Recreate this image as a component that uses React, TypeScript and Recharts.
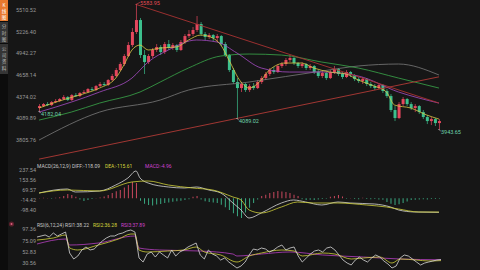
import { ComposedChart, Bar, Line, XAxis, YAxis, ReferenceLine, ReferenceDot, Cell } from "recharts";

const UP = "#e5475d";
const DOWN = "#3cbf8d";
const TICK = { fill: "#9a9a9a", fontSize: 5.5, fontFamily: "Roboto" };

// [open, high, low, close]
const candles: [number, number, number, number][] = [
  [4225, 4277, 4182.04, 4251], [4251, 4290, 4238, 4277], [4277, 4303, 4251, 4264], [4264, 4317, 4251, 4303],
  [4303, 4343, 4290, 4317], [4317, 4356, 4303, 4343], [4343, 4395, 4330, 4369], [4369, 4382, 4317, 4330],
  [4330, 4408, 4317, 4395], [4395, 4422, 4369, 4382], [4382, 4435, 4369, 4422], [4422, 4461, 4408, 4435],
  [4435, 4487, 4422, 4474], [4474, 4500, 4448, 4461], [4461, 4527, 4448, 4513], [4513, 4566, 4500, 4540],
  [4540, 4566, 4513, 4527], [4527, 4605, 4513, 4592], [4592, 4671, 4579, 4645], [4645, 4750, 4631, 4723],
  [4723, 4828, 4710, 4802], [4802, 4933, 4776, 4907], [4907, 5091, 4894, 5051], [5051, 5274, 5025, 5222],
  [5222, 5583.95, 5196, 5379], [5379, 5406, 4881, 4920], [4920, 4986, 4671, 4828], [4828, 4933, 4802, 4907],
  [4907, 5012, 4881, 4986], [4986, 5064, 4959, 5025], [5025, 5051, 4920, 4959], [4959, 5091, 4933, 5064],
  [5064, 5117, 4986, 5012], [5012, 5078, 4986, 5051], [5051, 5064, 4959, 4986], [4986, 5117, 4973, 5091],
  [5091, 5196, 5064, 5169], [5169, 5248, 5143, 5196], [5196, 5287, 5169, 5248], [5248, 5432, 5222, 5327],
  [5327, 5353, 5169, 5196], [5196, 5222, 5117, 5156], [5156, 5209, 5130, 5182], [5182, 5196, 5104, 5143],
  [5143, 5196, 5091, 5169], [5169, 5182, 5038, 5064], [5064, 5091, 4894, 4920], [4920, 4933, 4697, 4723],
  [4723, 4750, 4540, 4566], [4566, 4618, 4089.02, 4487], [4487, 4566, 4435, 4540], [4540, 4553, 4435, 4461],
  [4461, 4540, 4435, 4513], [4513, 4553, 4461, 4487], [4487, 4592, 4474, 4566], [4566, 4645, 4540, 4618],
  [4618, 4697, 4592, 4671], [4671, 4750, 4645, 4723], [4723, 4763, 4671, 4697], [4697, 4802, 4684, 4776],
  [4776, 4828, 4750, 4802], [4802, 4881, 4776, 4855], [4855, 4920, 4828, 4881], [4881, 4894, 4789, 4815],
  [4815, 4828, 4750, 4776], [4776, 4828, 4750, 4802], [4802, 4815, 4723, 4750], [4750, 4802, 4723, 4776],
  [4776, 4789, 4671, 4697], [4697, 4723, 4618, 4645], [4645, 4710, 4618, 4684], [4684, 4697, 4592, 4618],
  [4618, 4723, 4605, 4697], [4697, 4776, 4671, 4736], [4736, 4750, 4645, 4671], [4671, 4697, 4605, 4632],
  [4632, 4723, 4618, 4697], [4697, 4710, 4632, 4658], [4658, 4671, 4579, 4605], [4605, 4632, 4553, 4579],
  [4579, 4632, 4540, 4605], [4605, 4618, 4513, 4540], [4540, 4566, 4487, 4513], [4513, 4540, 4461, 4487],
  [4487, 4553, 4474, 4527], [4527, 4540, 4422, 4448], [4448, 4474, 4356, 4382], [4382, 4408, 4172, 4199],
  [4199, 4251, 4054, 4094], [4094, 4303, 4080, 4277], [4277, 4369, 4251, 4343], [4343, 4356, 4251, 4277],
  [4277, 4303, 4199, 4225], [4225, 4277, 4172, 4251], [4251, 4264, 4146, 4172], [4172, 4199, 4080, 4107],
  [4107, 4133, 4015, 4054], [4054, 4107, 4002, 4080], [4080, 4094, 3989, 4028], [4028, 4080, 3943.65, 4054],
];

// moving averages: [candle index, value]
const maYellow: [number, number][] = [
  [0, 4225], [5, 4317], [10, 4395], [15, 4487], [19, 4618], [21, 4789], [23, 4986], [25, 5051], [27, 4986],
  [30, 5012], [34, 5025], [37, 5117], [40, 5182], [43, 5143], [45, 5051], [47, 4855], [50, 4566], [52, 4487],
  [55, 4592], [57, 4723], [61, 4815], [65, 4815], [68, 4750], [72, 4697], [76, 4671], [79, 4592], [83, 4513],
  [86, 4435], [88, 4264], [92, 4225], [96, 4133], [99, 4080],
];
const maPurple: [number, number][] = [
  [0, 4172], [8, 4303], [15, 4435], [23, 4618], [27, 4828], [32, 4986], [39, 5117], [44, 5091], [49, 4946],
  [55, 4750], [62, 4697], [70, 4697], [79, 4645], [89, 4435], [99, 4290],
];
const maGreen: [number, number][] = [
  [0, 4067], [8, 4172], [15, 4290], [25, 4435], [30, 4566], [37, 4750], [45, 4907], [52, 4933], [60, 4920],
  [70, 4828], [79, 4750], [89, 4618], [99, 4487],
];
const maGray: [number, number][] = [
  [0, 3805], [15, 4172], [30, 4330], [37, 4461], [52, 4566], [70, 4710], [79, 4776], [89, 4802], [99, 4658],
];

const diffPts: [number, number][] = [
  [0, 44.4], [7, 78], [9, 52.8], [15, 61.2], [19, 111.6], [22, 170.4], [24, 229.1], [25, 170.4], [27, 128.4],
  [32, 94.8], [36, 86.4], [39, 94.8], [42, 69.6], [45, 44.4], [48, -39.6], [50, -98.4], [52, -165.6],
  [55, -123.6], [60, -39.6], [63, -14.4], [66, -31.2], [70, -56.4], [74, -31.2], [77, -39.6], [83, -48],
  [87, -73.2], [89, -98.4], [93, -115.2], [99, -118.09],
];
const deaPts: [number, number][] = [
  [0, 44.4], [7, 69.6], [15, 61.2], [23, 136.8], [27, 145.2], [32, 111.6], [38, 86.4], [43, 69.6], [48, 10.8],
  [50, -14.4], [52, -98.4], [55, -123.6], [60, -73.2], [64, -31.2], [68, -39.6], [74, -39.6], [81, -56.4],
  [86, -73.2], [89, -90], [94, -115.2], [99, -115.61],
];
const macdHist = [
  3, 5, 2, -3, 4, 8, 20, 35, 28, 12, -10, -22, -15, -5, 3, 6, 15, 27, 44, 60,
  70, 90, 111, 137, 128, -20, -45, -56, -60, -52, -48, -40, -35, -30, -25, -20, -15, -8, 12, 20,
  -10, -25, -31, -35, -40, -55, -75, -98, -125, -150, -165, -120, -80, -40, -10, 19, 30, 44, 53, 61,
  58, 53, 44, 30, 19, -8, -14, -12, -14, -10, -6, -4, 12, 19, 27, 15, -4, 3, -6, -8,
  4, -5, -8, -6, -10, -12, -31, -45, -56, -50, -40, -28, -15, -12, -10, -8, -10, -6, -5, -4.96,
];

const rsi1 = [
  82.6, 84.6, 86.6, 82.6, 90.5, 84.6, 88.5, 92.4, 51.2, 39.4, 45.3, 57.1, 63.0, 57.1, 59.0, 66.9, 74.8, 80.7, 84.6, 84.6,
  88.5, 90.5, 94.4, 96.4, 92.4, 41.4, 33.5, 49.2, 53.2, 43.3, 53.2, 47.3, 41.4, 57.1, 45.3, 53.2, 57.1, 63.0, 66.9, 70.8,
  47.3, 39.4, 57.1, 49.2, 45.3, 37.4, 41.4, 33.5, 27.6, 21.7, 25.6, 33.5, 47.3, 59.0, 57.1, 61.0, 59.0, 53.2, 57.1, 63.0,
  66.9, 57.1, 61.0, 63.0, 45.3, 33.5, 41.4, 49.2, 55.1, 57.1, 53.2, 61.0, 63.0, 57.1, 47.3, 37.4, 31.5, 27.6, 37.4, 43.3,
  37.4, 33.5, 41.4, 47.3, 43.3, 35.5, 29.6, 21.7, 25.6, 41.4, 47.3, 45.3, 39.4, 33.5, 27.6, 31.5, 33.5, 35.5, 37.4, 38.22,
];
const rsi2Pts: [number, number][] = [
  [0, 76.7], [4, 80.7], [7, 86.6], [8, 61], [10, 57.1], [15, 66.9], [20, 78.7], [23, 88.5], [24, 88.5], [25, 57.1],
  [27, 53.2], [32, 55.1], [36, 57.1], [39, 63], [41, 53.2], [45, 47.3], [49, 33.5], [52, 45.3], [55, 51.2],
  [60, 57.1], [63, 55.1], [65, 45.3], [70, 51.2], [73, 49.2], [77, 39.4], [80, 41.4], [84, 43.3], [87, 31.5],
  [89, 39.4], [93, 37.4], [96, 35.5], [99, 36.28],
];
const rsi3Pts: [number, number][] = [
  [0, 68.9], [7, 78.7], [8, 66.9], [15, 70.8], [24, 84.6], [25, 61], [30, 57.1], [40, 55.1], [48, 49.2],
  [49, 45.3], [55, 49.2], [62, 53.2], [70, 47.3], [80, 43.3], [89, 39.4], [99, 37.89],
];

const priceTicks = [3805.76, 4089.89, 4374.02, 4658.14, 4942.27, 5226.4, 5510.52];
const macdTicks = [-98.4, -14.42, 69.57, 153.56, 237.54];
const rsiTicks = [30.56, 52.83, 75.09, 97.36];

const pick = (pts: [number, number][], i: number) => {
  const f = pts.find((p) => p[0] === i);
  return f ? f[1] : null;
};

const rows = candles.map(([o, h, l, c], i) => ({
  i,
  o, h, l, c,
  range: [l, h],
  ma1: pick(maYellow, i),
  ma2: pick(maPurple, i),
  ma3: pick(maGreen, i),
  ma4: pick(maGray, i),
  diff: pick(diffPts, i),
  dea: pick(deaPts, i),
  macd: macdHist[i],
  rsi1: rsi1[i],
  rsi2: pick(rsi2Pts, i),
  rsi3: pick(rsi3Pts, i),
}));

const Candle = (props: any) => {
  const { x, y, width, height, payload } = props;
  const { o, h, l, c } = payload;
  const top = Math.min(y, y + height);
  const span = Math.abs(height);
  const k = h === l ? 0 : span / (h - l);
  const bodyTop = top + (h - Math.max(o, c)) * k;
  const bodyH = Math.max(0.8, Math.abs(o - c) * k);
  const cx = x + width / 2;
  const col = c >= o ? UP : DOWN;
  return (
    <g>
      <line x1={cx} x2={cx} y1={top} y2={top + span} stroke={col} strokeWidth={0.7} />
      <rect x={x} y={bodyTop} width={width} height={bodyH} fill={col} />
    </g>
  );
};

const lowLabel = (text: string) => (p: any) => {
  const cx = p.viewBox.x + p.viewBox.width / 2;
  const cy = p.viewBox.y + p.viewBox.height / 2;
  return (
    <g>
      <line x1={cx} y1={cy} x2={cx + 2} y2={cy + 2} stroke="#d0d0d0" strokeWidth={0.6} />
      <text x={cx + 2} y={cy + 5} fill="#6fd3ad" fontSize={5.5} fontFamily="Roboto">{text}</text>
    </g>
  );
};

const highLabel = (text: string) => (p: any) => {
  const cx = p.viewBox.x + p.viewBox.width / 2;
  const cy = p.viewBox.y + p.viewBox.height / 2;
  return (
    <g>
      <line x1={cx} y1={cy} x2={cx + 4} y2={cy - 2} stroke="#e04a55" strokeWidth={0.6} />
      <text x={cx + 4} y={cy + 0.5} fill="#e04a55" fontSize={5.5} fontFamily="Roboto">{text}</text>
    </g>
  );
};

const axes = (domain: [number, number], ticks: number[]) => [
  <XAxis key="x" dataKey="i" hide />,
  <YAxis key="l" yAxisId="l" orientation="left" width={37} domain={domain} ticks={ticks} interval={0}
    axisLine={false} tickLine={false} tickSize={0} tickMargin={1} tick={TICK} tickFormatter={(v) => v.toFixed(2)} />,
  <YAxis key="r" yAxisId="r" orientation="right" width={39} domain={domain} ticks={ticks} interval={0}
    axisLine={false} tickLine={false} tickSize={0} tickMargin={11} tick={TICK} tickFormatter={(v) => v.toFixed(2)} />,
];

const M = { top: 0, right: 0, bottom: 0, left: 0 };
const ma = (key: string, color: string) => (
  <Line yAxisId="l" dataKey={key} stroke={color} strokeWidth={0.8} dot={false} connectNulls type="monotone" isAnimationActive={false} />
);

export default function App() {
  return (
    <div style={{ position: "absolute", left: 0, top: 0, width: 480, height: 270, background: "#161616", overflow: "hidden" }}>
      <div style={{ position: "absolute", left: 0, top: 0 }}>
        <ComposedChart width={480} height={163} data={rows} margin={M}>
          {axes([3504.2, 5641.66], priceTicks)}
          <Bar yAxisId="l" dataKey="range" barSize={3} shape={<Candle />} isAnimationActive={false} />
          {ma("ma4", "#7a7a7a")}
          {ma("ma3", "#3aa84a")}
          {ma("ma2", "#a64bc4")}
          {ma("ma1", "#d9c845")}
          <ReferenceLine yAxisId="l" segment={[{ x: 24, y: 5584 }, { x: 99, y: 4290 }]} stroke="#a83232" strokeWidth={0.9} />
          <ReferenceLine yAxisId="l" segment={[{ x: 0, y: 3555 }, { x: 99, y: 4634 }]} stroke="#b03a36" strokeWidth={0.9} />
          <ReferenceDot yAxisId="l" x={24} y={5583.95} r={0.5} fill="#e04a55" stroke="none" label={highLabel("5583.95")} />
          <ReferenceDot yAxisId="l" x={0} y={4182.04} r={0.5} fill="#d0d0d0" stroke="none" label={lowLabel("4182.04")} />
          <ReferenceDot yAxisId="l" x={49} y={4089.02} r={0.5} fill="#d0d0d0" stroke="none" label={lowLabel("4089.02")} />
          <ReferenceDot yAxisId="l" x={99} y={3943.65} r={0.5} fill="#d0d0d0" stroke="none" label={lowLabel("3943.65")} />
        </ComposedChart>
      </div>
      <div style={{ position: "absolute", left: 0, top: 160 }}>
        <ComposedChart width={480} height={60} data={rows} margin={M}>
          {axes([-182.4, 321.5], macdTicks)}
          <Bar yAxisId="l" dataKey="macd" barSize={1} isAnimationActive={false}>
            {rows.map((r) => (
              <Cell key={r.i} fill={r.macd >= 0 ? "#c8485e" : "#3aa982"} />
            ))}
          </Bar>
          <Line yAxisId="l" dataKey="diff" stroke="#d8d8d8" strokeWidth={0.8} dot={false} connectNulls type="monotone" isAnimationActive={false} />
          <Line yAxisId="l" dataKey="dea" stroke="#cfcf3a" strokeWidth={0.8} dot={false} connectNulls type="monotone" isAnimationActive={false} />
        </ComposedChart>
      </div>
      <div style={{ position: "absolute", left: 0, top: 219 }}>
        <ComposedChart width={480} height={51} data={rows} margin={M}>
          {axes([17.8, 118], rsiTicks)}
          <Line yAxisId="l" dataKey="rsi3" stroke="#b53fc0" strokeWidth={0.8} dot={false} connectNulls type="monotone" isAnimationActive={false} />
          <Line yAxisId="l" dataKey="rsi2" stroke="#cfcf3a" strokeWidth={0.8} dot={false} connectNulls type="monotone" isAnimationActive={false} />
          <Line yAxisId="l" dataKey="rsi1" stroke="#d8d8d8" strokeWidth={0.8} dot={false} type="linear" isAnimationActive={false} />
        </ComposedChart>
      </div>
      <svg width={480} height={270} style={{ position: "absolute", left: 0, top: 0, pointerEvents: "none" }}>
        <rect x={0} y={0} width={8} height={270} fill="#0c0c0c" />
        <rect x={0} y={0} width={8} height={21} fill="#e8792e" />
        <rect x={0} y={22} width={8} height={21} fill="#353535" />
        <rect x={0} y={44} width={8} height={30} fill="#353535" />
        <g fontFamily="Noto Sans CJK SC" fontSize={4.6} textAnchor="middle">
          {["K", "线", "图"].map((t, k) => <text key={k} x={4} y={6.5 + k * 6.3} fill="#fff">{t}</text>)}
          {["分", "时", "图"].map((t, k) => <text key={k} x={4} y={28 + k * 6.5} fill="#bbb">{t}</text>)}
          {["公", "司", "资", "料"].map((t, k) => <text key={k} x={4} y={50 + k * 6.5} fill="#bbb">{t}</text>)}
        </g>
        <circle cx={11.5} cy={224} r={2.6} fill="#5a1f2a" />
        <circle cx={11.5} cy={224} r={1} fill="#e06080" />
        <g fontFamily="Roboto" fontSize={5}>
          <text x={37} y={167.6} fill="#c8c8c8">MACD(26,12,9) DIFF:-118.09</text>
          <text x={105} y={167.6} fill="#d6d63c">DEA:-115.61</text>
          <text x={145} y={167.6} fill="#d042d0">MACD:-4.96</text>
          <text x={37} y={226.8} fill="#c8c8c8">RSI(6,12,24) RSI1:38.22</text>
          <text x={93} y={226.8} fill="#d6d63c">RSI2:36.28</text>
          <text x={121} y={226.8} fill="#d042d0">RSI3:37.89</text>
        </g>
      </svg>
    </div>
  );
}
